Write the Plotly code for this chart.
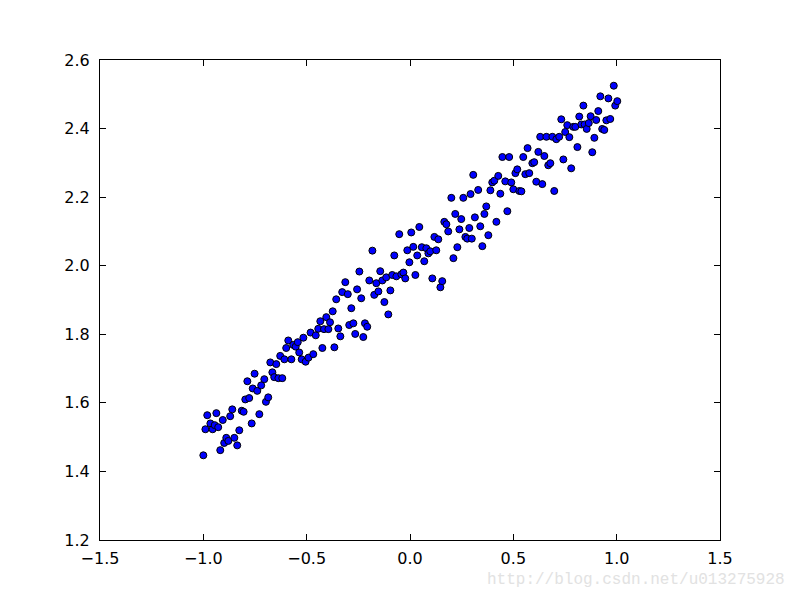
import plotly.graph_objects as go

x_vals = [
    -1.000, -0.990, -0.981, -0.966, -0.955, -0.945, -0.937, -0.928, -0.918, -0.906,
    -0.899, -0.889, -0.879, -0.870, -0.860, -0.850, -0.836, -0.826, -0.814, -0.805,
    -0.797, -0.787, -0.778, -0.766, -0.761, -0.752, -0.739, -0.729, -0.720, -0.705,
    -0.697, -0.686, -0.676, -0.666, -0.657, -0.647, -0.637, -0.628, -0.618, -0.608,
    -0.599, -0.589, -0.574, -0.565, -0.553, -0.543, -0.536, -0.524, -0.516, -0.505,
    -0.491, -0.481, -0.468, -0.456, -0.444, -0.434, -0.424, -0.416, -0.405, -0.395,
    -0.387, -0.374, -0.366, -0.357, -0.347, -0.337, -0.328, -0.313, -0.301, -0.294,
    -0.284, -0.274, -0.265, -0.256, -0.245, -0.236, -0.226, -0.218, -0.207, -0.197,
    -0.182, -0.173, -0.163, -0.153, -0.144, -0.134, -0.124, -0.115, -0.105, -0.095,
    -0.086, -0.076, -0.066, -0.052, -0.042, -0.032, -0.023, -0.013, -0.003, 0.006,
    0.016, 0.026, 0.035, 0.045, 0.057, 0.069, 0.079, 0.089, 0.098, 0.108,
    0.118, 0.127, 0.137, 0.147, 0.156, 0.166, 0.176, 0.185, 0.200, 0.210,
    0.219, 0.229, 0.239, 0.248, 0.258, 0.268, 0.277, 0.287, 0.293, 0.299,
    0.306, 0.314, 0.330, 0.340, 0.350, 0.360, 0.369, 0.379, 0.389, 0.398,
    0.408, 0.418, 0.427, 0.437, 0.447, 0.461, 0.471, 0.480, 0.490, 0.500,
    0.510, 0.519, 0.529, 0.539, 0.548, 0.558, 0.569, 0.577, 0.592, 0.601,
    0.611, 0.621, 0.630, 0.640, 0.650, 0.660, 0.669, 0.679, 0.689, 0.698,
    0.708, 0.722, 0.732, 0.742, 0.751, 0.761, 0.771, 0.780, 0.790, 0.800,
    0.810, 0.819, 0.829, 0.839, 0.845, 0.855, 0.865, 0.874, 0.882, 0.892,
    0.901, 0.911, 0.921, 0.930, 0.940, 0.950, 0.960, 0.969, 0.986, 0.993,
    1.003,
]

y_vals = [
    1.447, 1.523, 1.564, 1.540, 1.523, 1.535, 1.570, 1.529, 1.462, 1.550,
    1.483, 1.498, 1.489, 1.561, 1.581, 1.498, 1.476, 1.520, 1.577, 1.574,
    1.610, 1.663, 1.614, 1.540, 1.642, 1.685, 1.635, 1.567, 1.651, 1.669,
    1.603, 1.616, 1.718, 1.689, 1.675, 1.713, 1.672, 1.737, 1.672, 1.727,
    1.760, 1.782, 1.727, 1.769, 1.764, 1.777, 1.747, 1.727, 1.790, 1.720,
    1.732, 1.805, 1.742, 1.797, 1.816, 1.838, 1.760, 1.815, 1.850, 1.815,
    1.835, 1.867, 1.762, 1.902, 1.817, 1.794, 1.923, 1.952, 1.917, 1.827,
    1.876, 1.832, 1.801, 1.931, 1.983, 1.905, 1.792, 1.832, 1.822, 1.957,
    2.044, 1.915, 1.949, 1.925, 1.984, 1.957, 1.894, 1.966, 1.858, 1.928,
    1.973, 2.030, 1.969, 2.092, 1.975, 1.980, 1.963, 2.045, 2.010, 2.097,
    2.055, 1.973, 2.030, 2.113, 2.054, 2.013, 2.051, 2.036, 2.042, 1.963,
    2.084, 2.045, 2.077, 1.937, 1.955, 2.128, 2.121, 2.100, 2.198, 2.022,
    2.151, 2.054, 2.106, 2.136, 2.198, 2.084, 2.079, 2.110, 2.209, 2.079,
    2.265, 2.141, 2.221, 2.115, 2.057, 2.151, 2.173, 2.089, 2.220, 2.243,
    2.248, 2.128, 2.262, 2.210, 2.317, 2.246, 2.159, 2.317, 2.243, 2.223,
    2.270, 2.281, 2.218, 2.217, 2.317, 2.267, 2.343, 2.270, 2.299, 2.302,
    2.245, 2.332, 2.376, 2.238, 2.320, 2.376, 2.293, 2.299, 2.376, 2.218,
    2.369, 2.376, 2.427, 2.310, 2.390, 2.410, 2.375, 2.284, 2.405, 2.405,
    2.346, 2.435, 2.412, 2.467, 2.412, 2.399, 2.416, 2.436, 2.331, 2.373,
    2.425, 2.451, 2.494, 2.399, 2.396, 2.424, 2.488, 2.428, 2.525, 2.467,
    2.480,
]

x_range = [-1.5, 1.5]
y_range = [1.2, 2.6]
watermark = "http://blog.csdn.net/u013275928"

fig = go.Figure()
fig.add_trace(go.Scatter(
    x=x_vals, y=y_vals, mode="markers",
    marker=dict(color="#0000ff", size=7, line=dict(color="black", width=1)),
    showlegend=False, hoverinfo="skip",
))

axis_common = dict(
    showgrid=False, zeroline=False, showline=True, linecolor="black", linewidth=1,
    mirror="ticks", ticks="inside", ticklen=6, tickwidth=1, tickcolor="black",
    tickfont=dict(family="DejaVu Sans", size=16, color="black"),
    tickformat=".1f",
)

fig.update_xaxes(range=x_range, dtick=0.5, tick0=-1.5, ticklabelstandoff=4, **axis_common)
fig.update_yaxes(range=y_range, dtick=0.2, tick0=1.2, ticklabelstandoff=6, **axis_common)

fig.add_annotation(
    text=watermark, xref="paper", yref="paper", x=1.108, y=-0.083,
    xanchor="right", yanchor="middle", showarrow=False,
    font=dict(family="Liberation Mono", size=16, color="#e2e2e2"),
)

fig.update_layout(
    width=800, height=600,
    margin=dict(l=92, r=88, t=52, b=68),
    paper_bgcolor="white", plot_bgcolor="white",
)

fig.write_html("out.html")
